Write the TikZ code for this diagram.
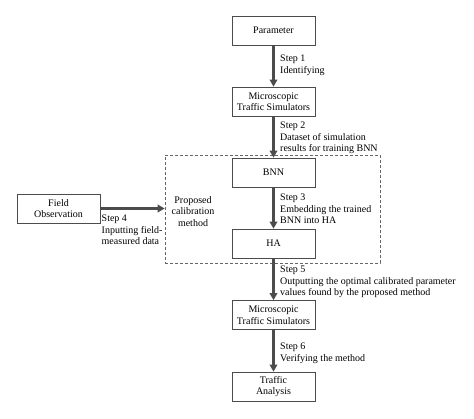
\documentclass[tikz,border=0pt]{standalone}
\usepackage{fontspec}
\setmainfont{Liberation Serif}
\usetikzlibrary{arrows.meta,positioning}
\tikzset{
    box color/.style={black!70},
    stepbox/.style={draw=black!70, line width=0.7pt, minimum width=83pt, minimum height=29pt, align=center, inner sep=1pt},
    flowarr/.style={-{Triangle[length=7pt,width=7.5pt]}, line width=2.4pt, black!70},
    calib frame/.style={draw=black!60, dash pattern=on 3pt off 2pt, line width=0.6pt, minimum width=215pt, minimum height=108pt},
    steplabel/.style={anchor=north west, align=left, inner sep=0pt},
}
\tikzstyle{every node}=[font=\fontsize{10}{11.5}\selectfont]

\begin{document}
\begin{tikzpicture}[x=1pt,y=-1pt]
    \useasboundingbox (0,0) rectangle (474,418);
    \node[calib frame] (calib) at (272.5,209) {};
    \node[stepbox] (param) at (273.5,30.5) {Parameter};
    \node[stepbox] (sim1) at (273.5,101.5) {Microscopic\\Traffic Simulators};
    \node[stepbox] (bnn) at (273.5,172.5) {BNN};
    \node[stepbox] (ha) at (273.5,243.5) {HA};
    \node[stepbox] (sim2) at (273.5,315) {Microscopic\\Traffic Simulators};
    \node[stepbox] (traffic) at (273.5,386.5) {Traffic\\Analysis};
    \node[stepbox] (field) at (58.5,208.5) {Field\\Observation};

    \draw[flowarr] (param) -- (sim1);
    \draw[flowarr] (sim1) -- (bnn);
    \draw[flowarr] (bnn) -- (ha);
    \draw[flowarr] (ha) -- (sim2);
    \draw[flowarr] (sim2) -- (traffic);
    \draw[flowarr] (field.east) -- (field.east -| calib.west);

    \node[steplabel] (step1) at (280,55) {Step 1\\Identifying};
    \node[steplabel] (step2) at (280,122) {Step 2\\Dataset of simulation\\results for training BNN};
    \node[steplabel] (step3) at (280,194) {Step 3\\Embedding the trained\\BNN into HA};
    \node[steplabel] (step4) at (101.5,215) {Step 4\\Inputting field-\\measured data};
    \node[steplabel] (step5) at (280,266) {Step 5\\Outputting the optimal calibrated parameter\\values found by the proposed method};
    \node[steplabel] (step6) at (280,343) {Step 6\\Verifying the method};
    \node[anchor=north, align=center, inner sep=0pt] (proposed) at (193,196) {Proposed\\calibration\\method};
\end{tikzpicture}
\end{document}
